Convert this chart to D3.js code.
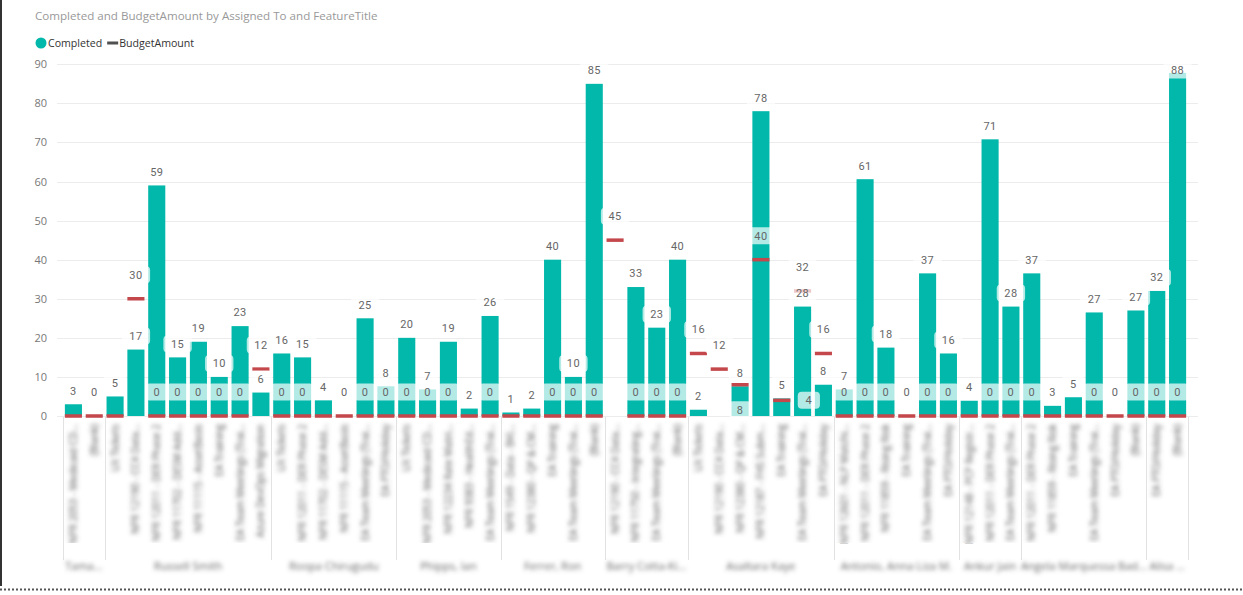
<!DOCTYPE html>
<html>
<head>
<meta charset="utf-8">
<script src="https://cdn.jsdelivr.net/npm/d3@7"></script>
<style>
  body { margin: 0; background: #fff; }
  svg { display: block; }
</style>
</head>
<body>
<svg id="chart" width="1243" height="595"></svg>
<script>
// data
var assignees = ["Tama...", "Russell Smith", "Roopa Chirugudu", "Phipps, Ian", "Ferrer, Ron",
  "Barry Cotta-Ki...", "Asaltara Kaye", "Antonio, Anna Liza M.", "Ankur Jain",
  "Angela Marquessa Bad...", "Alisa ..."];
var assigneeSizes = [2, 8, 6, 5, 5, 4, 7, 6, 3, 6, 2];

var featureTitles = [
  "NPR 2053 - Medicaid CD...", "(Blank)",
  "UX Tickets", "NPR 12190 - CC4 Data...", "NPR 12011 - DER Phase 2", "NPR 11702 - DESM Add...",
  "NPR 11115 - AssetBasis", "EA Training", "EA Team Meetings (Trai...", "Azure DevOps Migration",
  "UX Tickets", "NPR 12011 - DER Phase 2", "NPR 11702 - DESM Add...", "NPR 11115 - AssetBasis",
  "EA Team Meetings (Trai...", "EA PTO/Holiday",
  "UX Tickets", "NPR 2053 - Medicaid CD...", "NPR 12234 Rate Matri...", "NPR 9383 - HealthEd...",
  "EA Team Meetings (Trai...",
  "NPR 1549 - Data - BKI...", "NPR 12380 - QP & CM...", "EA Training", "EA Team Meetings (Trai...", "(Blank)",
  "NPR 12190 - CC4 Data...", "NPR 11750 - Integrating...", "EA Team Meetings (Trai...", "(Blank)",
  "UX Tickets", "NPR 12190 - CC4 Data...", "NPR 12380 - QP & CM...", "NPR 12187 - FHS Subm...",
  "EA Training", "EA Team Meetings (Trai...", "EA PTO/Holiday",
  "NPR 12601 - NLP Matchi...", "NPR 12011 - DER Phase 2", "NPR 11859 - Rising Risk", "EA Training",
  "EA Team Meetings (Trai...", "EA PTO/Holiday",
  "NPR 12148 - PCP Registr...", "NPR 12011 - DER Phase 2", "EA Team Meetings (Trai...",
  "NPR 12011 - DER Phase 2", "NPR 11859 - Rising Risk", "EA Training", "EA Team Meetings (Trai...",
  "EA PTO/Holiday", "(Blank)",
  "EA PTO/Holiday", "(Blank)"
];

var completed = [
  3, 0,
  5, 17, 59, 15, 19, 10, 23, 6,
  16, 15, 4, 0, 25, 7.6,
  20, 6.8, 19, 1.9, 25.6,
  0.9, 1.9, 40, 10, 85,
  0, 33, 22.6, 40,
  1.6, 0, 7.6, 78, 4.5, 28, 8,
  6.8, 60.6, 17.5, 0, 36.5, 16,
  3.9, 70.8, 28,
  36.5, 2.6, 4.8, 26.5, 0, 27,
  32, 87.8
];

var budgetAmount = [
  0, 0,
  0, 30, 0, 0, 0, 0, 0, 12,
  0, 0, 0, 0, 0, 0,
  0, 0, 0, 0, 0,
  0, 0, 0, 0, 0,
  45, 0, 0, 0,
  16, 12, 8, 40, 4, 32, 16,
  0, 0, 0, 0, 0, 0,
  0, 0, 0,
  0, 0, 0, 0, 0, 0,
  0, 0
];

var yTicks = [0, 10, 20, 30, 40, 50, 60, 70, 80, 90];

var teal = "#01B8AA", red = "#C4474B";
var uiFont = "'Segoe UI', 'Open Sans', sans-serif";
var numFont = "Roboto, 'DejaVu Sans', sans-serif";

var svg = d3.select("#chart");
var defs = svg.append("defs");
defs.append("filter").attr("id", "blur")
  .attr("filterUnits", "userSpaceOnUse")
  .attr("x", 0).attr("y", 400).attr("width", 1243).attr("height", 195)
  .append("feGaussianBlur").attr("stdDeviation", 2.2);
defs.append("clipPath").attr("id", "blurZone")
  .append("rect").attr("x", 0).attr("y", 416).attr("width", 1243).attr("height", 127);
defs.append("clipPath").attr("id", "sharpZone")
  .append("rect").attr("x", 0).attr("y", 543).attr("width", 1243).attr("height", 12);

// frame
svg.append("line").attr("x1", 1).attr("x2", 1).attr("y1", 0).attr("y2", 586)
  .attr("stroke", "#333").attr("stroke-width", 2);
svg.append("line").attr("x1", 0).attr("x2", 1243).attr("y1", 589.5).attr("y2", 589.5)
  .attr("stroke", "#555").attr("stroke-width", 2).attr("stroke-dasharray", "2,2");

// title + legend
svg.append("text").attr("x", 35).attr("y", 20)
  .attr("font-family", uiFont).attr("font-size", 11.6).attr("fill", "#999")
  .text("Completed and BudgetAmount by Assigned To and FeatureTitle");

svg.append("circle").attr("cx", 41).attr("cy", 43).attr("r", 5.5).attr("fill", teal);
var lg1 = svg.append("text").attr("x", 48).attr("y", 47)
  .attr("font-family", uiFont).attr("font-size", 10.6).attr("fill", "#333").text("Completed");
var lgEnd = 48 + lg1.node().getComputedTextLength();
svg.append("rect").attr("x", lgEnd + 5).attr("y", 41.5).attr("width", 11).attr("height", 3).attr("fill", "#505050");
svg.append("text").attr("x", lgEnd + 17).attr("y", 47)
  .attr("font-family", uiFont).attr("font-size", 10.6).attr("fill", "#333").text("BudgetAmount");

// scales
var n = completed.length;
var x = d3.scaleBand().domain(d3.range(n)).range([63, 1188])
  .paddingInner(0.18).paddingOuter(0.09);
var y = d3.scaleLinear().domain([0, 90]).range([416, 64.3]);

// y axis + grid
var yAxis = d3.axisLeft(y).tickValues(yTicks).tickSize(0).tickPadding(0);
var ya = svg.append("g").attr("transform", "translate(47,0)").call(yAxis);
ya.select(".domain").remove();
ya.selectAll("text").attr("font-family", uiFont).attr("font-size", 11).attr("fill", "#777");

svg.append("g").selectAll("line").data(yTicks).join("line")
  .attr("x1", 57).attr("x2", 1198)
  .attr("y1", function(d) { return Math.round(y(d)) + 0.5; })
  .attr("y2", function(d) { return Math.round(y(d)) + 0.5; })
  .attr("stroke", "#ececec");

// bars
svg.append("g").selectAll("rect").data(completed).join("rect")
  .attr("x", function(d, i) { return x(i); })
  .attr("width", x.bandwidth())
  .attr("y", function(d) { return y(d); })
  .attr("height", function(d) { return y(0) - y(d); })
  .attr("fill", teal);

// budget markers (line series shown as dashes)
svg.append("g").selectAll("rect").data(budgetAmount).join("rect")
  .attr("x", function(d, i) { return x(i); })
  .attr("width", x.bandwidth())
  .attr("y", function(d) { return y(d) - 1.75; })
  .attr("height", 3.5)
  .attr("fill", red);

// data labels with simple collision avoidance
var labels = svg.append("g");
var placed = [];
var fmt = function(v) { return String(Math.round(v)); };

function measure(txt) {
  var t = labels.append("text").attr("font-family", numFont).attr("font-size", 11).text(txt);
  var w = t.node().getComputedTextLength();
  t.remove();
  return w;
}
function boxOf(cx, cy, w) {
  return { x0: cx - w / 2 - 2, x1: cx + w / 2 + 2, y0: cy - 7, y1: cy + 7 };
}
function hits(b) {
  return placed.some(function(p) {
    return b.x0 < p.x1 && b.x1 > p.x0 && b.y0 < p.y1 && b.y1 > p.y0;
  });
}
function drawLabel(cx, cy, txt, w) {
  var g = labels.append("g");
  g.append("rect").attr("x", cx - w / 2 - 8).attr("y", cy - 8.5)
    .attr("width", w + 16).attr("height", 17).attr("rx", 4)
    .attr("fill", "#fff").attr("fill-opacity", 0.7);
  g.append("text").attr("x", cx).attr("y", cy).attr("dy", "0.35em")
    .attr("text-anchor", "middle").attr("font-family", numFont).attr("font-size", 11)
    .attr("letter-spacing", 0.4).attr("fill", "#666").text(txt);
  placed.push(boxOf(cx, cy, w));
}

completed.forEach(function(v, i) {
  if (v <= 0) return;
  var cx = x(i) + x.bandwidth() / 2;
  var txt = fmt(v);
  drawLabel(cx, Math.max(70, y(v) - 13.5), txt, measure(txt));
});

budgetAmount.forEach(function(v, i) {
  var cx = x(i) + x.bandwidth() / 2;
  var txt = fmt(v);
  var w = measure(txt);
  var py = y(v);
  var options = [[cx, py - 24], [cx, py + 25], [cx + 24 + w / 2, py]];
  for (var k = 0; k < options.length; k++) {
    var o = options[k];
    if (o[1] + 6 > 418 || o[1] - 6 < 62) continue;
    if (hits(boxOf(o[0], o[1], w))) continue;
    drawLabel(o[0], o[1], txt, w);
    break;
  }
});

// x axis: feature titles (rotated) and assignee groups
function fit(textSel, maxW) {
  textSel.each(function() {
    var t = d3.select(this), s = t.text();
    if (this.getComputedTextLength() <= maxW) return;
    while (s.length > 1) {
      s = s.slice(0, -1);
      t.text(s.replace(/[\s.]+$/, "") + "...");
      if (this.getComputedTextLength() <= maxW) break;
    }
  });
}

function drawTitles(g) {
  var t = g.selectAll("text").data(featureTitles).join("text")
    .attr("transform", function(d, i) {
      return "translate(" + (x(i) + x.bandwidth() / 2 + 3.5) + ",424) rotate(-90)";
    })
    .attr("text-anchor", "end")
    .attr("font-family", uiFont).attr("font-size", 10).attr("fill", "#555")
    .text(function(d) { return d; });
  fit(t, 124);
}
var blurred = svg.append("g").attr("clip-path", "url(#blurZone)")
  .append("g").attr("filter", "url(#blur)");
drawTitles(blurred);
drawTitles(svg.append("g").attr("clip-path", "url(#sharpZone)"));

var starts = [0];
assigneeSizes.forEach(function(s, k) { starts.push(starts[k] + s); });
var bounds = starts.map(function(s) { return s < n ? x(s) - x.step() * x.paddingInner() / 2 : 1188; });
bounds[0] = 63;

svg.append("g").selectAll("line").data(bounds).join("line")
  .attr("x1", function(d) { return Math.round(d) + 0.5; })
  .attr("x2", function(d) { return Math.round(d) + 0.5; })
  .attr("y1", 417).attr("y2", 560)
  .attr("stroke", "#e2e2e2");

var grp = svg.append("g").attr("filter", "url(#blur)");
grp.selectAll("text").data(assignees).join("text")
  .attr("x", function(d, k) { return (bounds[k] + bounds[k + 1]) / 2; })
  .attr("y", 570)
  .attr("text-anchor", "middle")
  .attr("font-family", uiFont).attr("font-size", 11).attr("fill", "#666")
  .text(function(d) { return d; });
</script>
</body>
</html>
